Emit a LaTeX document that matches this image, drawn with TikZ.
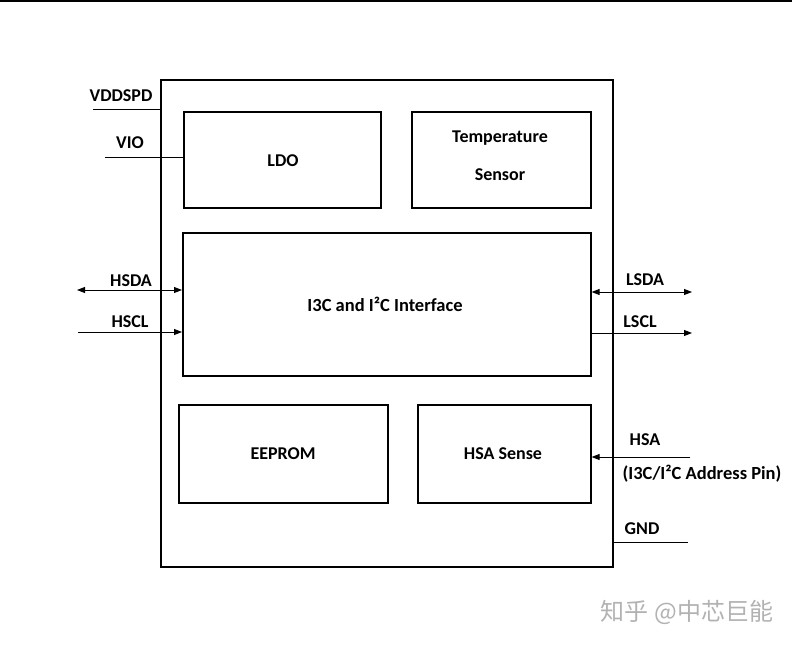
\documentclass[tikz,border=0pt]{standalone}
\usepackage{fontspec}
\setmainfont{Carlito}
\newfontfamily\cjk{Noto Sans CJK SC}
\usetikzlibrary{arrows.meta}
\begin{document}
\begin{tikzpicture}[x=1pt,y=-1pt,
  blk/.style={draw,line width=1.6pt,inner sep=0pt},
  lbl/.style={font=\fontsize{18}{20}\selectfont\bfseries,inner sep=0pt},
  pin/.style={line width=0.9pt},
  tip/.style={-{Triangle[length=8pt,width=6pt]}},
  dtip/.style={{Triangle[length=8pt,width=6pt]}-{Triangle[length=8pt,width=6pt]}}]
\useasboundingbox (0,0) rectangle (792,647);
\draw[line width=1.6pt] (0,1) -- (792,1);
% boxes
\node[blk,minimum width=452pt,minimum height=487pt,anchor=north west] (outer) at (160,79) {};
\node[blk,minimum width=197pt,minimum height=96pt,anchor=north west] (ldo) at (183,111) {};
\node[blk,minimum width=179pt,minimum height=96pt,anchor=north west] (temp) at (411,111) {};
\node[blk,minimum width=408pt,minimum height=143pt,anchor=north west] (iface) at (182,232) {};
\node[blk,minimum width=209pt,minimum height=98pt,anchor=north west] (eeprom) at (178,404) {};
\node[blk,minimum width=173pt,minimum height=98pt,anchor=north west] (hsa) at (417,404) {};
% box texts
\node[lbl] (tldo) at (283,161) {LDO};
\node[lbl] (ttemp1) at (500,138) {Temperature};
\node[lbl] (ttemp2) at (500,175) {Sensor};
\node[lbl,font=\fontsize{18.5}{20}\selectfont\bfseries] (tiface) at (385,304) {I3C and I²C Interface};
\node[lbl] (teeprom) at (283,454) {EEPROM};
\node[lbl] (thsasense) at (503,454) {HSA Sense};
% pin end coordinates
\coordinate (vddspdL) at (93,109);
\coordinate (vioL) at (105,157);
\coordinate (hsdaL) at (77,290);
\coordinate (hsclL) at (78,332);
\coordinate (lsdaR) at (692,292);
\coordinate (lsclR) at (692,333);
\coordinate (hsaR) at (690,457);
\coordinate (gndR) at (688,542);
% connectors
\draw[pin] (vddspdL) -- (outer.west |- vddspdL);
\draw[pin] (vioL) -- (ldo.west |- vioL);
\draw[pin,dtip] (hsdaL) -- (iface.west |- hsdaL);
\draw[pin,tip] (hsclL) -- (iface.west |- hsclL);
\draw[pin,dtip] (iface.east |- lsdaR) -- (lsdaR);
\draw[pin,tip] (iface.east |- lsclR) -- (lsclR);
\draw[pin,tip] (hsaR) -- (hsa.east |- hsaR);
\draw[pin] (outer.east |- gndR) -- (gndR);
% labels
\node[lbl] (tvdd) at (121,96) {VDDSPD};
\node[lbl] (tvio) at (130,143) {VIO};
\node[lbl] (thsda) at (131,281) {HSDA};
\node[lbl] (thscl) at (130,322) {HSCL};
\node[lbl] (tlsda) at (645,280) {LSDA};
\node[lbl] (tlscl) at (640,322) {LSCL};
\node[lbl] (thsa) at (645,440) {HSA};
\node[lbl,font=\fontsize{18.5}{20}\selectfont\bfseries] (taddr) at (702,474) {(I3C/I²C Address Pin)};
\node[lbl] (tgnd) at (642,529) {GND};
\node[font=\cjk\fontsize{24}{26}\selectfont,text=black!30,inner sep=0pt] (wm) at (687,612) {知乎 @中芯巨能};
\end{tikzpicture}
\end{document}
